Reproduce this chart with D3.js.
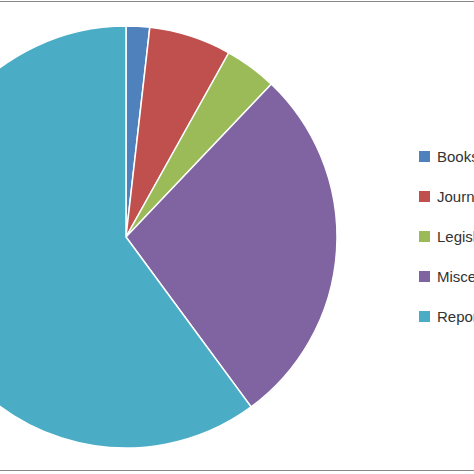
<!DOCTYPE html><html><head><script src="https://cdn.jsdelivr.net/npm/d3@7"></script>
<style>body{margin:0;background:#fff}</style></head><body><svg id="c" width="474" height="474"></svg>
<script>
const categories=["Books","Journals","Legislation","Miscellaneous","Reports"];
const values=[1.8,6.3,4.0,27.8,60.1];
const colors=["#4F81BD","#C0504D","#9BBB59","#8064A2","#4BACC6"];
const svg=d3.select("#c");
svg.append("rect").attr("x",-5).attr("y",1.5).attr("width",484).attr("height",469).attr("fill","#fff").attr("stroke","#888");
const pie=d3.pie().sort(null)(values);
const arc=d3.arc().innerRadius(0).outerRadius(211);
svg.append("g").attr("transform","translate(126,237)").selectAll("path").data(pie).join("path")
 .attr("d",arc).attr("fill",(d,i)=>colors[i]).attr("stroke","#fff").attr("stroke-width",1.5);
const lg=svg.append("g").selectAll("g").data(categories).join("g").attr("transform",(d,i)=>`translate(419,${157+i*40})`);
lg.append("rect").attr("x",0).attr("y",-6).attr("width",11).attr("height",11).attr("fill",(d,i)=>colors[i]);
lg.append("text").attr("x",18).attr("y",5).attr("font-family","Liberation Sans, Arial").attr("font-size",15).attr("fill","#333").text(d=>d);
</script></body></html>
